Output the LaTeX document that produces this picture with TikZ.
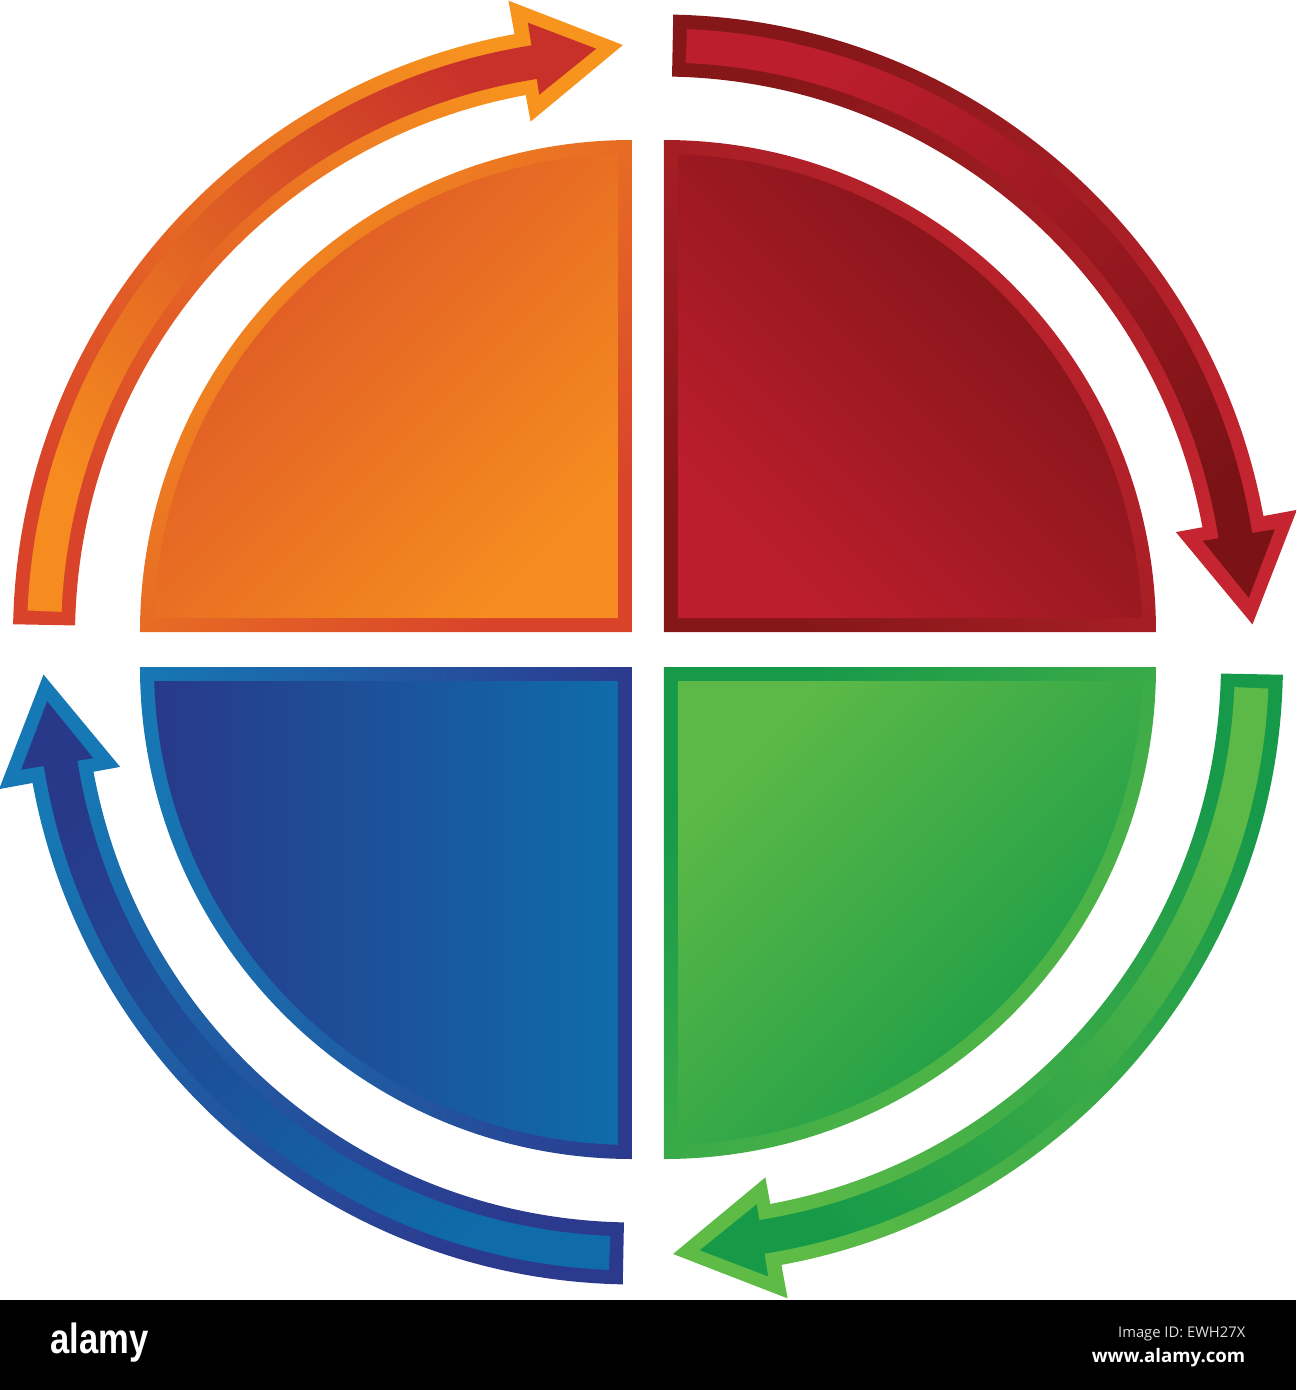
\documentclass[tikz,border=0pt]{standalone}
\usepackage{fontspec}
\usepackage{tikz}
\usepackage{xcolor}
\newfontfamily\logofont{Liberation Sans}
\newfontfamily\bannerfont{Open Sans}

\definecolor{orangeRim}{HTML}{F7941E}
\definecolor{orangeRimDark}{HTML}{D8432A}
\definecolor{orangeFill}{HTML}{F68C1F}
\definecolor{orangeFillDark}{HTML}{DC5327}
\definecolor{orangeHead}{HTML}{C8302A}
\definecolor{redRim}{HTML}{C52530}
\definecolor{redRimDark}{HTML}{861719}
\definecolor{redFill}{HTML}{BD1E2D}
\definecolor{redFillDark}{HTML}{7B1316}
\definecolor{blueRim}{HTML}{1678B4}
\definecolor{blueRimDark}{HTML}{2C3A8E}
\definecolor{blueFill}{HTML}{0F6CA9}
\definecolor{blueFillMid}{HTML}{07519A}
\definecolor{blueFillDark}{HTML}{28398A}
\definecolor{greenRim}{HTML}{5DBB46}
\definecolor{greenRimDark}{HTML}{17994A}
\definecolor{greenFill}{HTML}{5CB947}
\definecolor{greenFillDark}{HTML}{169A48}

\begin{document}
\begin{tikzpicture}[x=0.01cm,y=0.01cm,
  banner/.style={text=white,inner sep=0pt}]
 \useasboundingbox (-648,-740.5) rectangle (648,649.5);

 % quadrants
 \begin{scope}[shift={(-16,17.5)}]
  \shade[top color=orangeRim,bottom color=orangeRimDark,shading angle=45]
   (0,0) -- (180:492) arc[start angle=180,end angle=90,radius=492] -- cycle;
  \shade[top color=orangeFill,bottom color=orangeFillDark,shading angle=-135]
   (-14,14) -- (178.32:478) arc[start angle=178.32,end angle=91.68,radius=478] -- cycle;
 \end{scope}
 \begin{scope}[shift={(16,17.5)}]
  \shade[top color=redRim,bottom color=redRimDark,shading angle=-45]
   (0,0) -- (90:492) arc[start angle=90,end angle=0,radius=492] -- cycle;
  \shade[top color=redFillDark,bottom color=redFill,shading angle=-45]
   (14,14) -- (88.32:478) arc[start angle=88.32,end angle=1.68,radius=478] -- cycle;
 \end{scope}
 \begin{scope}[shift={(16,-17.5)}]
  \shade[top color=greenRimDark,bottom color=greenRim,shading angle=45]
   (0,0) -- (0:492) arc[start angle=0,end angle=-90,radius=492] -- cycle;
  \shade[top color=greenFill,bottom color=greenFillDark,shading angle=45]
   (14,-14) -- (-1.68:478) arc[start angle=-1.68,end angle=-88.32,radius=478] -- cycle;
 \end{scope}
 \begin{scope}[shift={(-16,-17.5)}]
  \shade[left color=blueRim,right color=blueRimDark]
   (0,0) -- (-90:492) arc[start angle=-90,end angle=-180,radius=492] -- cycle;
  \shade[left color=blueFillDark,middle color=blueFillMid,right color=blueFill]
   (-14,-14) -- (-91.68:478) arc[start angle=-91.68,end angle=-178.32,radius=478] -- cycle;
 \end{scope}

 % arrows
 \begin{scope}[shift={(-23,13.5)}]
  \shade[top color=orangeRim,bottom color=orangeRimDark,shading angle=-45]
   (178.9:612) arc[start angle=178.9,end angle=100.4,radius=612] -- (100.4:646) -- (90.2:591)
   -- (100.4:523) -- (100.4:550) arc[start angle=100.4,end angle=178.9,radius=550] -- cycle;
  \shade[top color=orangeHead,middle color=orangeFillDark,bottom color=orangeFill,shading angle=-45]
   (177.55:598) arc[start angle=177.55,end angle=99,radius=598] -- (99:621) -- (92.8:588)
   -- (99:548) -- (99:564) arc[start angle=99,end angle=177.55,radius=564] -- cycle;
 \end{scope}
 \begin{scope}[shift={(13.5,23)}]
  \shade[top color=redRim,bottom color=redRimDark,shading angle=-135]
   (88.9:612) arc[start angle=88.9,end angle=10.4,radius=612] -- (10.4:646) -- (0.2:591)
   -- (10.4:523) -- (10.4:550) arc[start angle=10.4,end angle=88.9,radius=550] -- cycle;
  \shade[top color=redFillDark,bottom color=redFill,shading angle=-135]
   (87.55:598) arc[start angle=87.55,end angle=9,radius=598] -- (9:621) -- (2.8:588)
   -- (9:548) -- (9:564) arc[start angle=9,end angle=87.55,radius=564] -- cycle;
 \end{scope}
 \begin{scope}[shift={(23,-13.5)}]
  \shade[top color=greenRim,bottom color=greenRimDark,shading angle=135]
   (-1.1:612) arc[start angle=-1.1,end angle=-79.6,radius=612] -- (-79.6:646) -- (-89.8:591)
   -- (-79.6:523) -- (-79.6:550) arc[start angle=-79.6,end angle=-1.1,radius=550] -- cycle;
  \shade[top color=greenFillDark,bottom color=greenFill,shading angle=135]
   (-2.45:598) arc[start angle=-2.45,end angle=-81,radius=598] -- (-81:621) -- (-87.2:588)
   -- (-81:548) -- (-81:564) arc[start angle=-81,end angle=-2.45,radius=564] -- cycle;
 \end{scope}
 \begin{scope}[shift={(-13.5,-23)}]
  \shade[top color=blueRim,bottom color=blueRimDark,shading angle=45]
   (268.9:612) arc[start angle=268.9,end angle=190.4,radius=612] -- (190.4:646) -- (180.2:591)
   -- (190.4:523) -- (190.4:550) arc[start angle=190.4,end angle=268.9,radius=550] -- cycle;
  \shade[top color=blueFillDark,middle color=blueFillMid,bottom color=blueFill,shading angle=45]
   (267.55:598) arc[start angle=267.55,end angle=189,radius=598] -- (189:621) -- (182.8:588)
   -- (189:548) -- (189:564) arc[start angle=189,end angle=267.55,radius=564] -- cycle;
 \end{scope}

 % banner
 \fill[black] (-648,-650.5) rectangle (648,-740.5);
 \node[banner,anchor=base west] (logo) at (-598,-703.5)
  {\logofont\bfseries\fontsize{12}{12}\selectfont\scalebox{0.82}[1]{alamy}};
 \node[banner,anchor=base east,text=white!88!black] (imageid) at (598,-687.5)
  {\bannerfont\fontsize{4.2}{5}\selectfont Image ID: EWH27X};
 \node[banner,anchor=base east] (site) at (598,-712.5)
  {\bannerfont\bfseries\fontsize{5.3}{6}\selectfont www.alamy.com};
\end{tikzpicture}
\end{document}
